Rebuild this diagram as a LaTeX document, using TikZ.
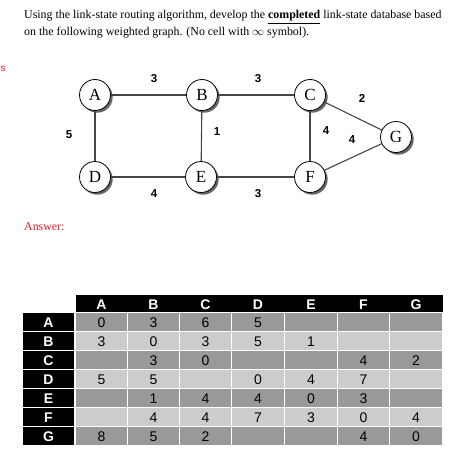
\documentclass[tikz,border=0pt]{standalone}
\usepackage{fontspec}
\setmainfont{Liberation Serif}
\newfontfamily\arialf{Liberation Sans}
\usetikzlibrary{shadows}
\definecolor{dgray}{RGB}{153,153,153}
\definecolor{lgray}{RGB}{204,204,204}
\definecolor{edgecol}{RGB}{70,70,70}
\definecolor{ansred}{RGB}{235,20,40}
\begin{document}
\begin{tikzpicture}[x=1pt,y=-1pt,
  vert/.style={circle, draw=black, line width=0.8pt, fill=white, minimum size=31pt, inner sep=0pt,
    font=\fontsize{17}{17}\selectfont,
    drop shadow={shadow xshift=2.2pt, shadow yshift=-2.2pt, fill=black!60, opacity=1}},
  edge/.style={draw=edgecol, line width=1.1pt},
  wlab/.style={font=\arialf\bfseries\fontsize{11.5}{12}\selectfont, inner sep=0pt},
  hdr/.style={font=\arialf\bfseries\fontsize{14}{14}\selectfont, text=white, inner sep=0pt},
  cell/.style={font=\arialf\fontsize{14}{14}\selectfont, text=black, inner sep=0pt},
  body/.style={font=\fontsize{11.9}{17}\selectfont, inner sep=0pt, anchor=base west}]
\useasboundingbox (0,0) rectangle (465,460);
% question text
\node[body] (q1) at (24,19) {Using the link-state routing algorithm, develop the \underline{\textbf{completed}} link-state database based};
\node[body] (q2) at (24,36) {on the following weighted graph. (No cell with $\infty$ symbol).};
% margin fragment
\node[body, text=ansred, font=\arialf\fontsize{10}{12}\selectfont] (frag) at (0.5,71) {s};
% graph
\node[vert] (A) at (95,95) {A};
\node[vert] (B) at (202,95) {B};
\node[vert] (C) at (310,95) {C};
\node[vert] (G) at (396,137) {G};
\node[vert] (D) at (95,177) {D};
\node[vert] (E) at (201,177) {E};
\node[vert] (F) at (310,177) {F};
\draw[edge] (A) -- (B);
\draw[edge] (B) -- (C);
\draw[edge] (C) -- (G);
\draw[edge] (A) -- (D);
\draw[edge] (B) -- (E);
\draw[edge] (C) -- (F);
\draw[edge] (G) -- (F);
\draw[edge] (D) -- (E);
\draw[edge] (E) -- (F);
\node[wlab] (wAB) at (154,79) {3};
\node[wlab] (wBC) at (258,79) {3};
\node[wlab] (wCG) at (362,98) {2};
\node[wlab] (wAD) at (69,135) {5};
\node[wlab] (wBE) at (217,132) {1};
\node[wlab] (wCF) at (326,131) {4};
\node[wlab] (wGF) at (352,140) {4};
\node[wlab] (wDE) at (154,194) {4};
\node[wlab] (wEF) at (258,194) {3};
% answer
\node[body, text=ansred] (ans) at (24,230) {Answer:};
% table header
\fill[black] (76,295) rectangle (443,312);
\foreach \h [count=\j from 0] in {A,B,C,D,E,F,G} {
  \pgfmathsetmacro\xl{{76,128,180,232,285,338,390,443}[\j]}
  \pgfmathsetmacro\xr{{76,128,180,232,285,338,390,443}[\j+1]}
  \node[hdr, anchor=base] (h\h) at ({(\xl+\xr-1)/2},309) {\h};
}
% table rows
\foreach \rl/\vals [count=\i from 0] in {A/{0,3,6,5,x,x,x}, B/{3,0,3,5,1,x,x}, C/{x,3,0,x,x,4,2}, D/{5,5,x,0,4,7,x}, E/{x,1,4,4,0,3,x}, F/{x,4,4,7,3,0,4}, G/{8,5,2,x,x,4,0}} {
  \pgfmathsetmacro\yt{313+19*\i}
  \ifodd\i \def\rowcol{lgray}\else\def\rowcol{dgray}\fi
  \fill[black] (23,\yt) rectangle (74,\yt+18);
  \node[hdr, anchor=base] (r\rl) at (48.5,\yt+14) {\rl};
  \foreach \v [count=\j from 0] in \vals {
    \pgfmathsetmacro\xl{{76,128,180,232,285,338,390,443}[\j]}
    \pgfmathsetmacro\xr{{76,128,180,232,285,338,390,443}[\j+1]}
    \fill[\rowcol] (\xl,\yt) rectangle (\xr-1,\yt+18);
    \if x\v\else
      \node[cell, anchor=base] (c\rl\j) at ({(\xl+\xr-1)/2},\yt+14) {\v};
    \fi
  }
}
\end{tikzpicture}
\end{document}
